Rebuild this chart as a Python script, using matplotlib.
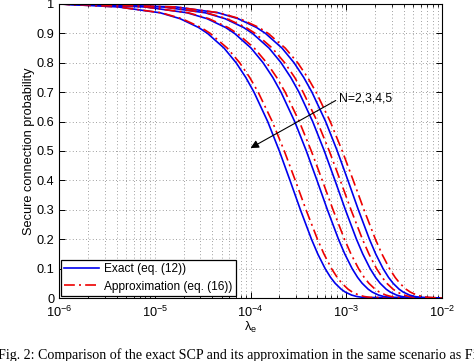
import numpy as np
import matplotlib
matplotlib.use("Agg")
from matplotlib import pyplot as plt
from matplotlib.ticker import LogLocator, FixedLocator, FormatStrFormatter

plt.rcParams['font.family'] = ['Liberation Sans', 'DejaVu Sans']
plt.rcParams['font.size'] = 9.2

p_levels = [1.0, 0.99, 0.97, 0.95, 0.92, 0.9, 0.85, 0.8, 0.75, 0.7, 0.6, 0.5,
            0.4, 0.3, 0.2, 0.15, 0.1, 0.07, 0.05, 0.03, 0.02, 0.01, 0.005,
            0.002, 0.0]

# lambda_e (in units of 1e-4) where each curve reaches the level above
exact_n2 = [0.01, 0.04124, 0.1140, 0.1839, 0.2869, 0.3555, 0.5292, 0.7076, 0.8932,
            1.0878, 1.5123, 2.0006, 2.5844, 3.3197, 4.3319, 5.0372, 6.0158, 6.8653,
            7.658, 8.8472, 9.781, 11.359, 12.918, 14.953, 100.0]
exact_n3 = [0.01, 0.07895, 0.2182, 0.3520, 0.5493, 0.6806, 1.0130, 1.3545, 1.7098,
            2.0824, 2.8949, 3.8297, 4.9473, 6.3548, 8.2925, 9.6426, 11.516, 13.142,
            14.660, 16.936, 18.724, 21.744, 24.728, 28.625, 100.0]
exact_n4 = [0.01, 0.1217, 0.3363, 0.5425, 0.8465, 1.0488, 1.5611, 2.0873, 2.6349,
            3.2090, 4.4612, 5.9018, 7.6240, 9.7931, 12.779, 14.860, 17.747, 20.253,
            22.591, 26.099, 28.854, 33.508, 38.108, 44.112, 100.0]
exact_n5 = [0.01, 0.1662, 0.4592, 0.7409, 1.1560, 1.4322, 2.1319, 2.8505, 3.5983,
            4.3823, 6.0923, 8.0596, 10.411, 13.374, 17.451, 20.293, 24.235, 27.657,
            30.851, 35.641, 39.403, 45.760, 52.040, 60.240, 100.0]

approx_n2 = [0.01, 0.04108, 0.1173, 0.1920, 0.3041, 0.3793, 0.5715, 0.7714, 0.9810,
             1.2021, 1.6886, 2.2539, 2.9350, 3.8000, 5.0007, 5.8423, 7.0174, 8.0414,
             9.0010, 10.447, 11.586, 13.519, 15.437, 17.951, 100.0]
approx_n3 = [0.01, 0.07868, 0.2246, 0.3677, 0.5823, 0.7263, 1.0945, 1.4773, 1.8786,
             2.3021, 3.2336, 4.3162, 5.6204, 7.2769, 9.5763, 11.188, 13.438, 15.399,
             17.237, 20.005, 22.187, 25.889, 29.561, 34.376, 100.0]
approx_n4 = [0.01, 0.1212, 0.3460, 0.5665, 0.8970, 1.1189, 1.6861, 2.2758, 2.8940,
             3.5464, 4.9815, 6.6493, 8.6585, 11.210, 14.753, 17.236, 20.702, 23.723,
             26.554, 30.819, 34.180, 39.883, 45.540, 52.958, 100.0]
approx_n5 = [0.01, 0.1656, 0.4728, 0.7740, 1.2256, 1.5288, 2.3037, 3.1094, 3.9541,
             4.8455, 6.8063, 9.0850, 11.830, 15.317, 20.157, 23.549, 28.285, 32.413,
             36.281, 42.108, 46.699, 54.492, 62.221, 72.356, 100.0]

exact = [exact_n2, exact_n3, exact_n4, exact_n5]
approx = [approx_n2, approx_n3, approx_n4, approx_n5]

y_ticks = [0, 0.1, 0.2, 0.3, 0.4, 0.5, 0.6, 0.7, 0.8, 0.9, 1]

fig = plt.figure(figsize=(4.74, 3.61), dpi=100)
ax = fig.add_axes([0.1245, 0.1745, 0.808, 0.8145])

for i in range(len(exact)):
    lab_e = 'Exact (eq. (12))' if i == 0 else None
    lab_a = 'Approximation (eq. (16))' if i == 0 else None
    ax.plot(np.array(exact[i]) * 1e-4, p_levels, color='#0000ee', lw=1.2, label=lab_e)
    ax.plot(np.array(approx[i]) * 1e-4, p_levels, color='#ee0000', lw=1.2,
            linestyle=(0, (6.5, 2.5, 1.2, 2.5)), label=lab_a)

ax.set_xscale('log')
ax.set_xlim(1e-6, 1e-2)
ax.set_ylim(0, 1)
ax.yaxis.set_major_locator(FixedLocator(y_ticks))
ax.yaxis.set_major_formatter(FormatStrFormatter('%g'))
ax.xaxis.set_major_locator(LogLocator(base=10, numticks=10))
ax.xaxis.set_minor_locator(LogLocator(base=10, subs=np.arange(2, 10), numticks=20))

ax.grid(True, which='major', linestyle=(0, (1, 3)), color='0.5', lw=0.6)
ax.xaxis.grid(True, which='minor', linestyle=(0, (1, 3)), color='0.5', lw=0.6)
ax.tick_params(which='both', direction='in', top=True, right=True)
ax.tick_params(which='major', length=4, width=0.7)
ax.tick_params(which='minor', length=2, width=0.6)
ax.tick_params(axis='x', pad=5)
for s in ax.spines.values():
    s.set_linewidth(0.8)

ax.set_xlabel(r'$\mathregular{\lambda_e}$', labelpad=0)
ax.set_ylabel('Secure connection probability', labelpad=1)

ax.annotate('N=2,3,4,5', xy=(1.0e-4, 0.51), xytext=(8.3e-4, 0.677),
            ha='left', va='center', fontsize=8.8,
            arrowprops=dict(arrowstyle='-|>', color='k', lw=0.8,
                            mutation_scale=12, shrinkA=0, shrinkB=0,
                            relpos=(0, 0.5)))

leg = ax.legend(loc='lower left', fancybox=False, edgecolor='k', framealpha=1,
                borderaxespad=0.15, handlelength=2.9, labelspacing=0.45,
                borderpad=0.3, handletextpad=0.45, fontsize=8.6)
leg.get_frame().set_linewidth(0.9)

fig.text(-0.004, 0.016,
         'Fig. 2: Comparison of the exact SCP and its approximation in the same scenario as Fig.',
         family='Liberation Serif', fontsize=10.1, va='center', ha='left')

fig.savefig('out.png', dpi=100)
